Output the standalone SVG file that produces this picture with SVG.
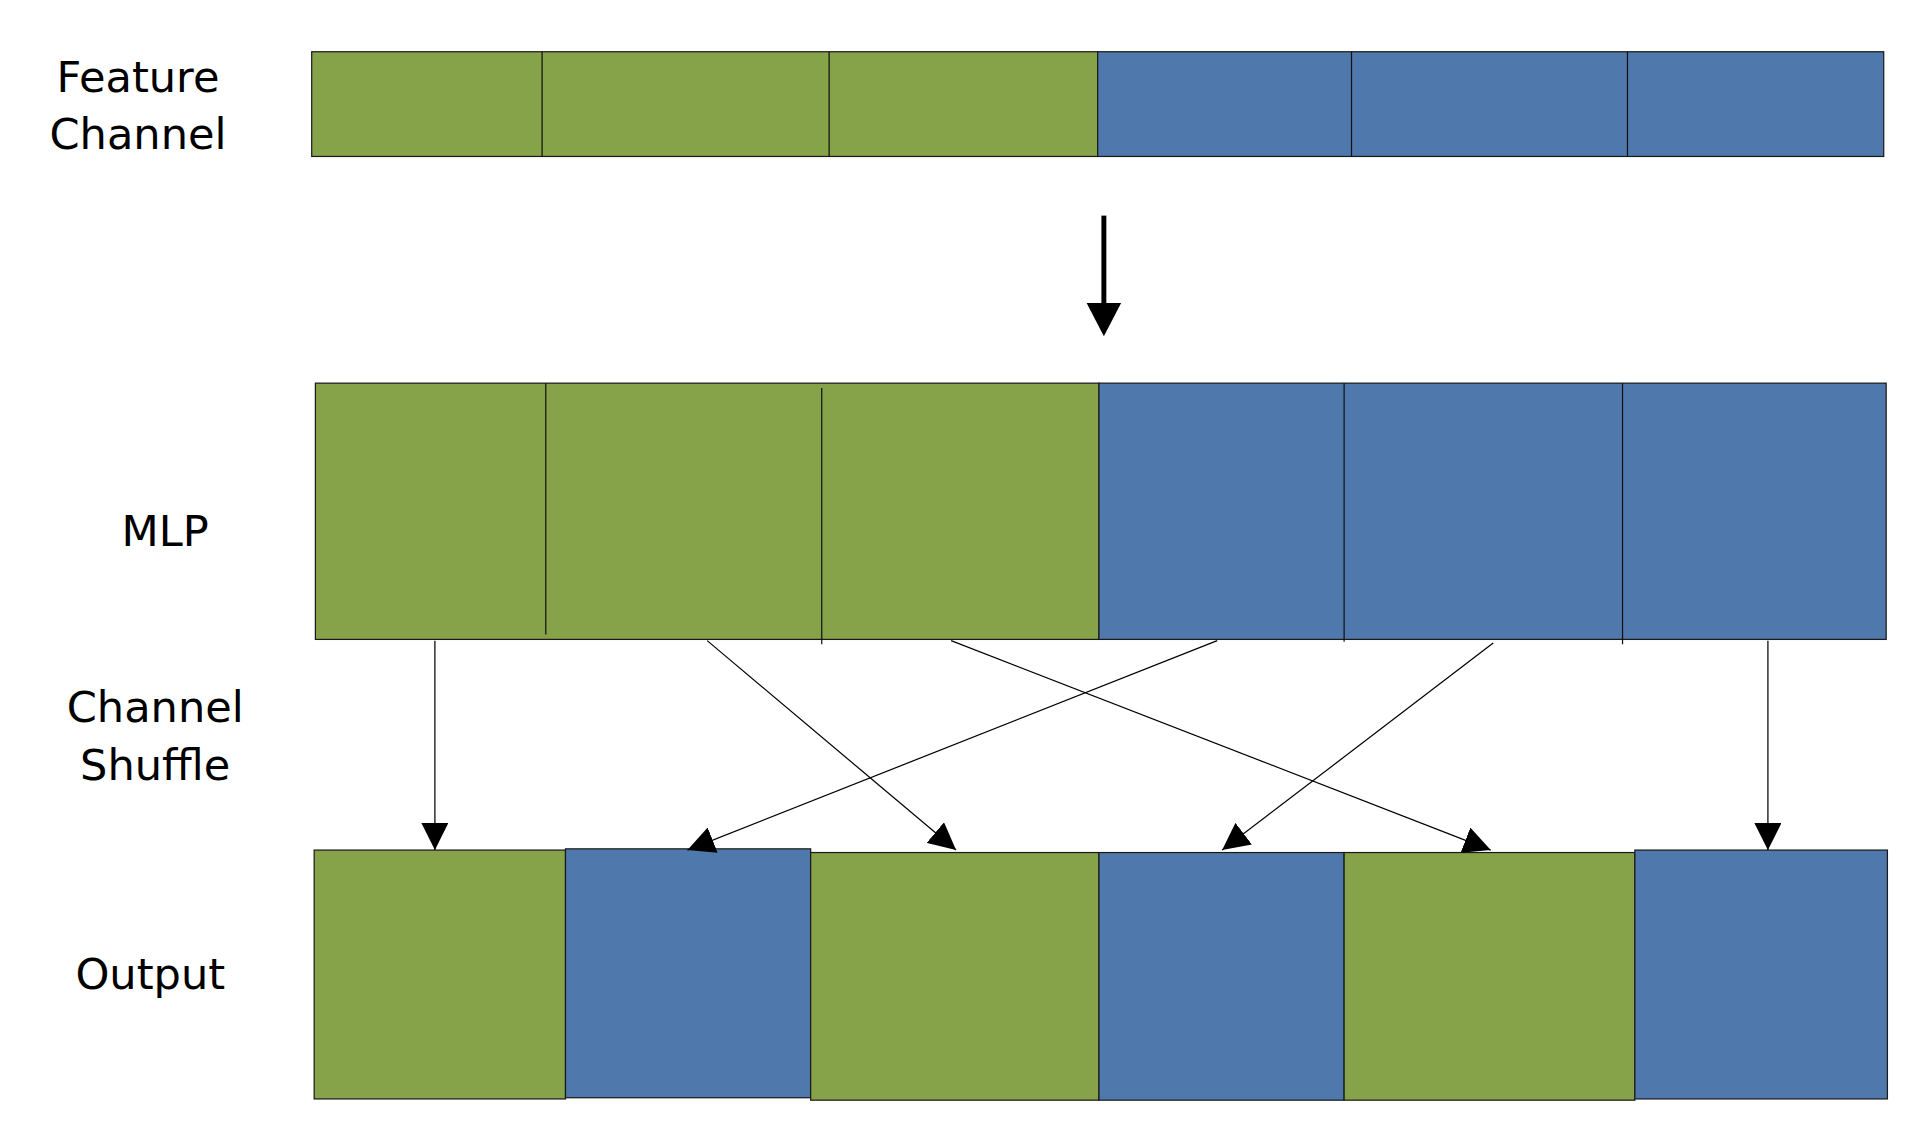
<svg xmlns="http://www.w3.org/2000/svg" width="1931" height="1141" viewBox="0 0 1931 1141">
<style>
.g{fill:#87a349;stroke:#1a1a1a;stroke-width:1}
.b{fill:#4f79ac;stroke:#1a1a1a;stroke-width:1}
.d{stroke:#111;stroke-width:1}
.t{font-family:"DejaVu Sans",sans-serif;font-size:35px;fill:#000;text-anchor:middle}
.c{stroke:#000;stroke-width:1;fill:none;marker-end:url(#ah)}
</style>
<defs>
<marker id="ah" viewBox="0 0 10 10" refX="10" refY="5" markerWidth="22" markerHeight="22" markerUnits="userSpaceOnUse" orient="auto"><path d="M0,0L10,5L0,10z" fill="#000"/></marker>
</defs>
<rect width="1931" height="1141" fill="#fff"/>
<g transform="scale(1.232,1.232)">
<g id="labels">
<text class="t" x="112" y="75">Feature</text>
<text class="t" x="112" y="121">Channel</text>
<text class="t" x="134" y="443">MLP</text>
<text class="t" x="126" y="586">Channel</text>
<text class="t" x="126" y="633">Shuffle</text>
<text class="t" x="122" y="803">Output</text>
</g>
<g id="feature">
<rect class="g" x="253" y="42" width="638" height="85"/>
<rect class="b" x="891" y="42" width="638" height="85"/>
<line class="d" x1="440" y1="42" x2="440" y2="127"/>
<line class="d" x1="673" y1="42" x2="673" y2="127"/>
<line class="d" x1="1097" y1="42" x2="1097" y2="127"/>
<line class="d" x1="1321" y1="42" x2="1321" y2="127"/>
</g>
<g id="mlp">
<rect class="g" x="256" y="311" width="636" height="208"/>
<rect class="b" x="892" y="311" width="639" height="208"/>
<line class="d" x1="443" y1="311" x2="443" y2="515"/>
<line class="d" x1="667" y1="315" x2="667" y2="523"/>
<line class="d" x1="1091" y1="311" x2="1091" y2="521"/>
<line class="d" x1="1317" y1="311" x2="1317" y2="523"/>
</g>
<g id="output">
<rect id="o1" class="g" x="255" y="690" width="204" height="202"/>
<rect id="o2" class="b" x="459" y="689" width="199" height="202"/>
<rect id="o3" class="g" x="658" y="692" width="234" height="201"/>
<rect id="o4" class="b" x="892" y="692" width="199" height="201"/>
<rect id="o5" class="g" x="1091" y="692" width="236" height="201"/>
<rect id="o6" class="b" x="1327" y="690" width="205" height="202"/>
</g>
<g id="connectors">
<line x1="896" y1="175" x2="896" y2="250" stroke="#000" stroke-width="4"/>
<polygon points="882,246 910,246 896,273" fill="#000"/>
<line class="c" x1="353" y1="520" x2="353" y2="690"/>
<line class="c" x1="574" y1="520" x2="776" y2="690"/>
<line class="c" x1="772" y1="520" x2="1210" y2="690"/>
<line class="c" x1="988" y1="520" x2="558" y2="690"/>
<line class="c" x1="1212" y1="522" x2="992" y2="690"/>
<line class="c" x1="1435" y1="520" x2="1435" y2="690"/>
</g>
</g>
</svg>
